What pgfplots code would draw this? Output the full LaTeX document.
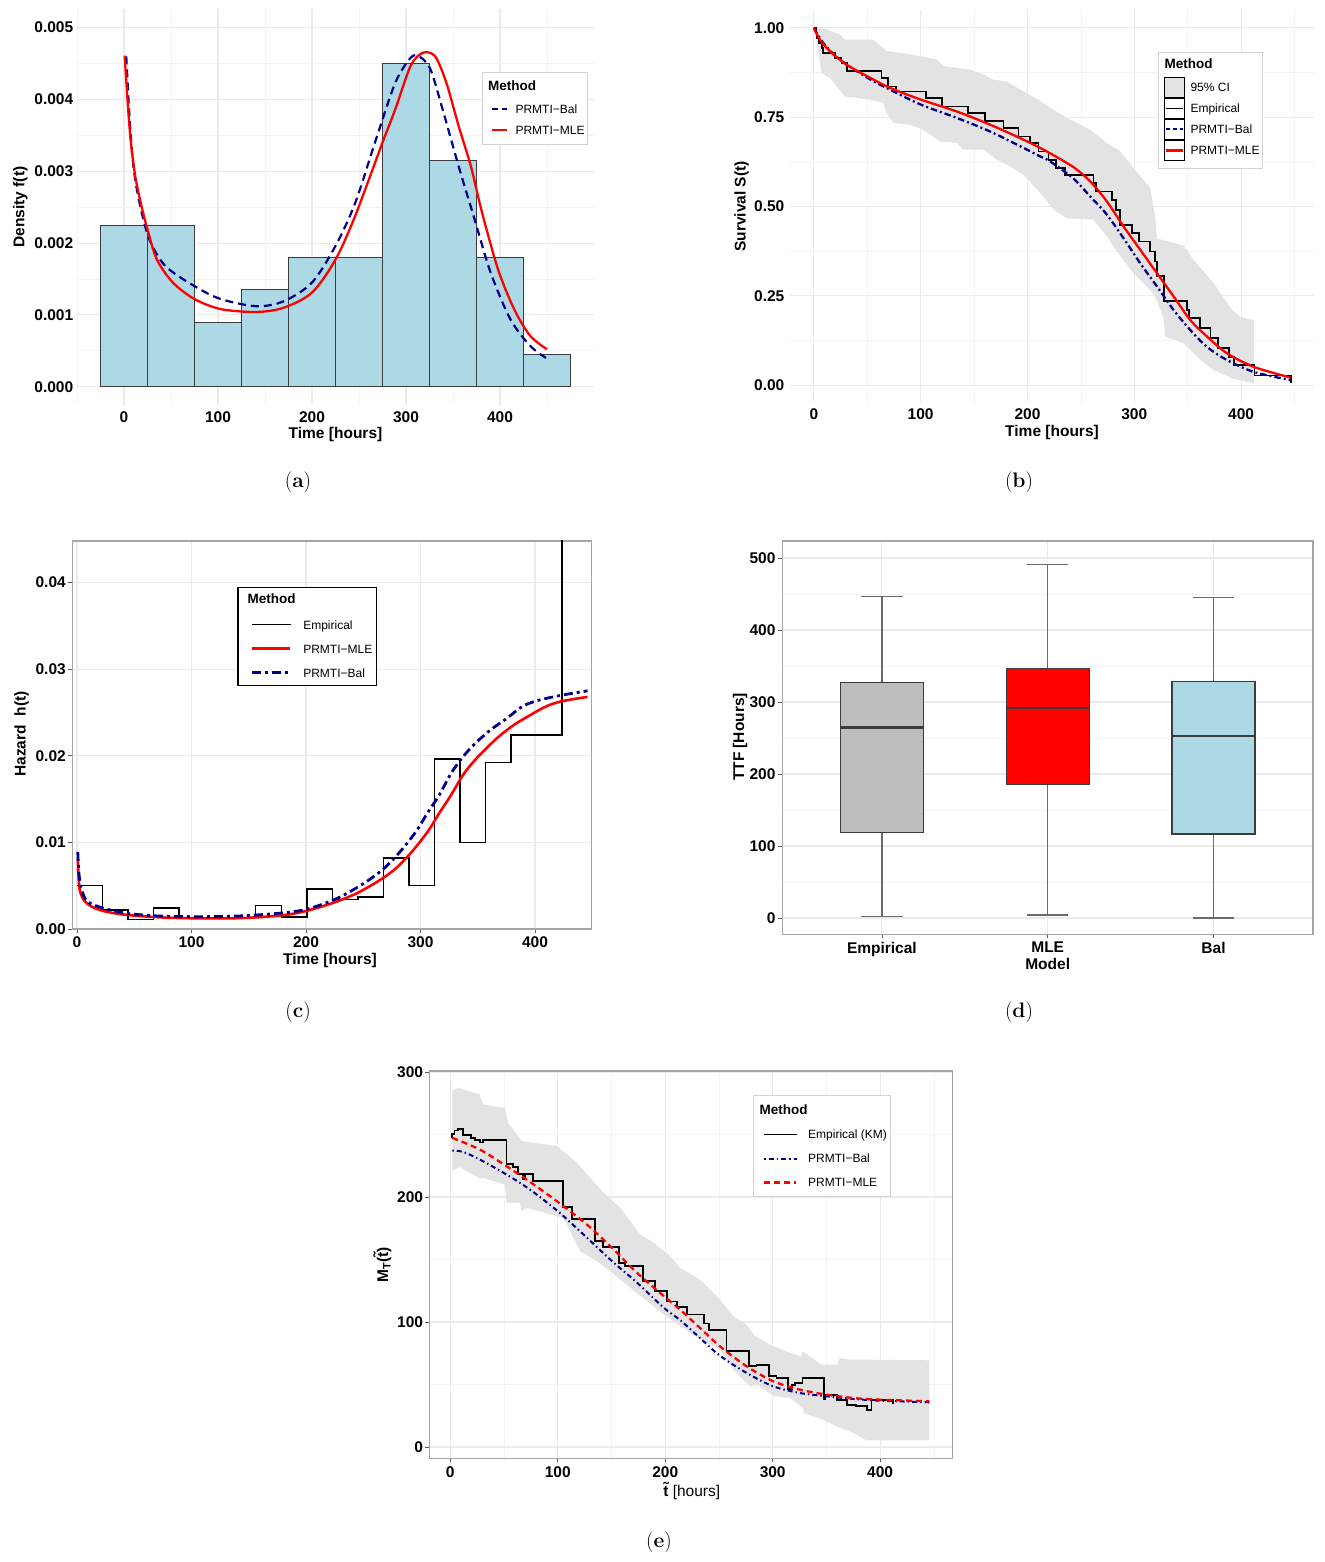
\documentclass[border=0pt]{standalone}
\usepackage{pgfplots}
\pgfplotsset{compat=1.18}
\usepackage{fontspec}
\newfontfamily\gf{Liberation Sans}
\definecolor{lb}{HTML}{ADD8E6}
\definecolor{db}{HTML}{00008B}
\definecolor{rd}{HTML}{FF0000}
\definecolor{rib}{HTML}{E3E3E3}
\definecolor{grd}{HTML}{EBEBEB}
\definecolor{grdm}{HTML}{F3F3F3}
\definecolor{frm}{HTML}{A6A6A6}
\definecolor{bxg}{HTML}{BEBEBE}
\definecolor{edg}{HTML}{3C3C3C}
\definecolor{lgb}{HTML}{D3D3D3}
\newcommand\tf{\gf\bfseries\fontsize{15.5pt}{15.5pt}\selectfont}
\newcommand\lf{\gf\fontsize{12pt}{12pt}\selectfont}
\newcommand\mth{\gf\bfseries\fontsize{13.5pt}{13.5pt}\selectfont}
\newcommand\tildet{\leavevmode\hbox{\ooalign{t\cr\hidewidth\raisebox{0.22em}{\char"02DC}\hidewidth\cr}}}
\newcommand\ttl[1]{\makebox[0pt][l]{\hspace{-#1}\mth Method}}
% legend keys
\newcommand\kaBal{\path[draw=none,fill=none] (0pt,0pt) -- (23pt,0pt); \draw[db, line width=2.2pt, dash pattern=on 6pt off 4pt] (6pt,0pt) -- (21.9pt,0pt);}
\newcommand\kaMLE{\path[draw=none,fill=none] (0pt,0pt) -- (23pt,0pt); \draw[rd, line width=2.2pt] (6pt,0pt) -- (21.9pt,0pt);}
\newcommand\kbCI{\path[draw=none,fill=none] (0pt,0pt) -- (23pt,0pt); \draw[black, line width=1pt, fill=rib] (2.5pt,-10pt) rectangle (22.5pt,10pt);}
\newcommand\kbEmp{\path[draw=none,fill=none] (0pt,0pt) -- (23pt,0pt); \draw[black, line width=1pt, fill=white] (2.5pt,-10pt) rectangle (22.5pt,10pt); \draw[black, line width=1.8pt] (4pt,0pt) -- (21pt,0pt);}
\newcommand\kbBal{\path[draw=none,fill=none] (0pt,0pt) -- (23pt,0pt); \draw[black, line width=1pt, fill=white] (2.5pt,-10pt) rectangle (22.5pt,10pt); \draw[db, line width=2pt, dash pattern=on 4pt off 3pt] (4pt,0pt) -- (21pt,0pt);}
\newcommand\kbMLE{\path[draw=none,fill=none] (0pt,0pt) -- (23pt,0pt); \draw[black, line width=1pt, fill=white] (2.5pt,-10pt) rectangle (22.5pt,10pt); \draw[rd, line width=2.2pt] (4pt,0pt) -- (21pt,0pt);}
\newcommand\kcEmp{\path[draw=none,fill=none] (0pt,0pt) -- (49.5pt,0pt); \draw[black, line width=1.3pt] (9.5pt,0pt) -- (48.8pt,0pt);}
\newcommand\kcMLE{\path[draw=none,fill=none] (0pt,0pt) -- (49.5pt,0pt); \draw[rd, line width=2.8pt] (9.5pt,0pt) -- (48.1pt,0pt);}
\newcommand\kcBal{\path[draw=none,fill=none] (0pt,0pt) -- (49.5pt,0pt); \draw[db, line width=2.8pt, dash pattern=on 9pt off 4pt on 3pt off 4pt] (9.5pt,0pt) -- (48.1pt,0pt);}
\newcommand\keEmp{\path[draw=none,fill=none] (0pt,0pt) -- (40pt,0pt); \draw[black, line width=1.8pt] (6.7pt,0pt) -- (39.1pt,0pt);}
\newcommand\keBal{\path[draw=none,fill=none] (0pt,0pt) -- (40pt,0pt); \draw[db, line width=2pt, dash pattern=on 1.5pt off 3pt on 5pt off 3pt] (6.7pt,0pt) -- (39pt,0pt);}
\newcommand\keMLE{\path[draw=none,fill=none] (0pt,0pt) -- (40pt,0pt); \draw[rd, line width=2.2pt, dash pattern=on 6pt off 4pt] (6.7pt,0pt) -- (38.9pt,0pt);}
\pgfplotsset{
  base/.style={scale only axis, anchor=south west, clip=true,
    scaled x ticks=false, scaled y ticks=false,
    tick label style={font=\tf, inner sep=0pt},
    major grid style={draw=grd, line width=1.1pt},
    minor grid style={draw=grdm, line width=0.6pt},
    legend cell align=left,
    legend style={fill=white, anchor=north west,
      nodes={inner sep=0pt, text height=8.6pt, text depth=0pt, font=\lf}}},
  gmin/.style={base, axis line style={draw=none}, tick style={draw=none},
    major tick length=0pt, minor tick length=0pt},
  gbw/.style={base, axis line style={draw=frm, line width=1.1pt}, tick align=outside,
    tick pos=left, major tick length=4pt, minor tick length=0pt,
    tick style={draw=black!65, line width=0.8pt}},
}
\begin{document}
\begin{tikzpicture}
\useasboundingbox (0,0) rectangle (1324pt,1562pt);
\fill[white] (0,0) rectangle (1324pt,1562pt);
%================ (a)
\begin{axis}[gmin, at={(77pt,1157pt)}, width=517pt, height=396pt,
  xmin=-50, xmax=500, ymin=-0.000255, ymax=0.00526,
  xtick={0,100,200,300,400}, xticklabels={0,100,200,300,400},
  minor xtick={-50,50,150,250,350,450},
  ytick={0,0.001,0.002,0.003,0.004,0.005},
  yticklabels={0.000,0.001,0.002,0.003,0.004,0.005},
  minor ytick={0.0005,0.0015,0.0025,0.0035,0.0045},
  grid=both,
  xticklabel style={anchor=north, yshift=-6.7pt},
  yticklabel style={anchor=east, xshift=-3.6pt},
  legend style={at={(0.7834,0.8409)}, draw=lgb, line width=1pt, inner xsep=3pt, inner ysep=9.7pt,
    row sep=12.4pt, column sep=7pt}]
\addplot[ybar interval, fill=lb, draw=edg, line width=0.9pt, forget plot] coordinates {
(-25,0.00225) (25,0.00225) (75,0.0009) (125,0.00135) (175,0.0018) (225,0.0018)
(275,0.0045) (325,0.00315) (375,0.0018) (425,0.00045) (475,0.00045)};
\addplot[db, line width=2.2pt, dash pattern=on 8pt off 5pt, smooth, forget plot] coordinates {
(2.4,0.0046) (5.8,0.00377) (10,0.00307) (16.5,0.00256) (27,0.00205) (44,0.00168) (75,0.0014)
(103,0.00122) (141,0.00112) (170,0.00119) (200,0.00145) (225,0.00196) (246,0.00256) (267,0.0034)
(288.5,0.00423) (305,0.00458) (314,0.0046) (326,0.00442) (339,0.00386) (356,0.00307) (373,0.00233)
(390,0.00159) (411,0.00094) (432,0.00057) (449,0.0004)};
\addplot[rd, line width=2.3pt, smooth, forget plot] coordinates {
(0.7,0.00461) (3.7,0.0040) (7,0.00344) (12,0.00293) (18.5,0.00252) (25,0.00219) (35,0.00177)
(52,0.00145) (75,0.00122) (103,0.00108) (141,0.00104) (170,0.0011) (200,0.00131) (225,0.00177)
(246,0.00238) (275,0.0034) (288.5,0.00386) (305,0.00447) (318,0.00465) (331,0.0046) (343,0.00423)
(356,0.00363) (369,0.00307) (381,0.00242) (398,0.00163) (415,0.00108) (432,0.00071) (450,0.00052)};
\addlegendimage{legend image code/.code={\path[draw=none,fill=none] (0pt,0pt) -- (0pt,-6pt);}}
\addlegendentry{\ttl{28pt}}
\addlegendimage{legend image code/.code={\kaBal}}
\addlegendentry{PRMTI−Bal}
\addlegendimage{legend image code/.code={\kaMLE}}
\addlegendentry{PRMTI−MLE}
\end{axis}
%================ (b)
\begin{axis}[gmin, at={(790pt,1159pt)}, width=524pt, height=393pt,
  xmin=-22.3, xmax=468.3, ymin=-0.05, ymax=1.05,
  xtick={0,100,200,300,400}, xticklabels={0,100,200,300,400},
  minor xtick={50,150,250,350,450},
  ytick={0,0.25,0.5,0.75,1}, yticklabels={0.00,0.25,0.50,0.75,1.00},
  minor ytick={0.125,0.375,0.625,0.875},
  grid=both,
  xticklabel style={anchor=north, yshift=-5pt},
  yticklabel style={anchor=east, xshift=-5.5pt},
  legend style={at={(0.7023,0.8931)}, draw=lgb, line width=1pt, inner xsep=3pt, inner ysep=7.7pt,
    row sep=0pt, column sep=6pt}]
\addplot[fill=rib, draw=none, forget plot] coordinates {
(0,1) (8.75,1) (24.4,0.981) (29.1,0.967) (55.6,0.967) (68.1,0.935) (80.6,0.93) (99.4,0.921)
(115,0.911) (121.3,0.893) (146.3,0.883) (158.8,0.869) (168.1,0.855) (180.6,0.85) (196.3,0.822)
(210.3,0.799) (224.4,0.771) (240,0.743) (258,0.716) (265,0.70) (278,0.67) (285.3,0.659) (300,0.605)
(315,0.551) (319.7,0.47) (321.3,0.41) (335,0.40) (346.3,0.39) (355.6,0.35) (374.4,0.285)
(391.6,0.21) (400,0.19) (411.9,0.182) (411.9,0.005)
(391.6,0.019) (374.4,0.042) (361.9,0.07) (346.3,0.117) (329.1,0.136) (327.5,0.187) (319.7,0.248)
(315,0.266) (299.4,0.313) (283.8,0.374) (274.4,0.416) (261.9,0.463) (236.9,0.467) (224.4,0.491)
(215,0.528) (196.3,0.589) (183.8,0.612) (171.3,0.631) (158.8,0.659) (140,0.659) (133.8,0.678)
(118.1,0.682) (102.5,0.715) (90,0.729) (74.4,0.734) (68.1,0.762) (65,0.79) (52.5,0.799)
(40,0.804) (29.1,0.808) (15,0.86) (7.2,0.874) (2.5,0.972) (0,1)} -- cycle;
\addplot[black, line width=1.8pt, const plot, forget plot] coordinates {
(0,1) (2.5,0.972) (5,0.958) (7.8,0.944) (8.75,0.93) (19.7,0.916) (25.9,0.902) (31.25,0.879)
(63.4,0.86) (69.7,0.836) (76.9,0.822) (105,0.804) (119.7,0.78) (144.7,0.762) (160.3,0.74)
(177.5,0.72) (191.6,0.696) (202.5,0.678) (210.3,0.654) (219.7,0.631) (227,0.608) (235.3,0.589)
(261.9,0.565) (264.4,0.542) (279.1,0.519) (283.1,0.491) (286.3,0.449) (297.8,0.425) (304.1,0.402)
(314.4,0.374) (319.7,0.346) (321.3,0.306) (327.5,0.236) (349.4,0.21) (350.9,0.187) (361.3,0.159)
(371.3,0.131) (378.1,0.103) (388.4,0.079) (393.1,0.056) (412.5,0.027) (446.9,0.005)};
\addplot[db, line width=2.3pt, dash pattern=on 6.5pt off 3pt on 2pt off 3pt, smooth, forget plot] coordinates {
(0,1) (8.75,0.958) (24.4,0.911) (50.3,0.86) (71.3,0.827) (100.3,0.785) (133.8,0.748) (165,0.71)
(196.3,0.664) (211.9,0.64) (221.3,0.626) (243.1,0.578) (258.8,0.528) (274.4,0.477) (290,0.411)
(305.6,0.341) (321.3,0.276) (336.9,0.21) (352.5,0.154) (368.1,0.107) (386.9,0.07) (411.9,0.037)
(446.3,0.014)};
\addplot[rd, line width=2.3pt, smooth, forget plot] coordinates {
(0,1) (5.6,0.967) (15,0.935) (30.6,0.897) (50.3,0.864) (71.3,0.832) (100.3,0.799) (133.8,0.766)
(165,0.729) (196.3,0.687) (218.1,0.654) (243.1,0.61) (258.8,0.57) (274.4,0.514) (290,0.444)
(305.6,0.379) (321.3,0.313) (336.9,0.248) (352.5,0.182) (368.1,0.136) (386.9,0.089) (411.9,0.051)
(446.3,0.021)};
\addlegendimage{legend image code/.code={\path[draw=none,fill=none] (0pt,0pt) -- (0pt,-12.5pt);}}
\addlegendentry{\ttl{26.5pt}}
\addlegendimage{legend image code/.code={\kbCI}}
\addlegendentry{95\% CI}
\addlegendimage{legend image code/.code={\kbEmp}}
\addlegendentry{Empirical}
\addlegendimage{legend image code/.code={\kbBal}}
\addlegendentry{PRMTI−Bal}
\addlegendimage{legend image code/.code={\kbMLE}}
\addlegendentry{PRMTI−MLE}
\end{axis}
%================ (c)
\begin{axis}[gbw, at={(72.3pt,633pt)}, width=519.4pt, height=388pt,
  xmin=-4.1, xmax=449.5, ymin=0, ymax=0.0448,
  xtick={0,100,200,300,400}, xticklabels={0,100,200,300,400},
  ytick={0,0.01,0.02,0.03,0.04}, yticklabels={0.00,0.01,0.02,0.03,0.04},
  grid=major,
  xticklabel style={anchor=north, yshift=-3pt},
  yticklabel style={anchor=east, xshift=-2.3pt},
  legend style={at={(0.318,0.8822)}, draw=black, line width=1.1pt, inner xsep=4pt, inner ysep=8pt,
    row sep=15.4pt, column sep=11.8pt}]
\addplot[black, line width=1.5pt, const plot, forget plot] coordinates {
(0,0.005) (22.3,0.0022) (44.6,0.0011) (66.9,0.0024) (89.2,0.0013) (111.5,0.0013) (133.8,0.0013)
(156.1,0.0027) (178.4,0.0014) (200.7,0.0046) (223,0.0034) (245.3,0.0037) (267.6,0.0082)
(289.9,0.005) (312.2,0.0196) (334.5,0.01) (356.8,0.0192) (379.1,0.0224) (401.4,0.0224)
(423.7,0.08) (446,0.08)};
\addplot[rd, line width=2.6pt, smooth, forget plot] coordinates {
(0.7,0.00816) (1.4,0.006) (2.4,0.0045) (5.9,0.00335) (12.8,0.00258) (23.1,0.00208) (36.9,0.00173)
(54.2,0.0015) (78.3,0.00131) (106,0.00123) (133.6,0.00123) (157.7,0.00135) (181.9,0.00162)
(200.2,0.00208) (223.3,0.003) (244,0.0041) (264.7,0.00566) (278.5,0.007) (292.3,0.0089)
(306.1,0.0112) (316.5,0.0134) (326.8,0.0155) (337.2,0.0178) (347.5,0.0195) (357.9,0.0209)
(368.2,0.0222) (382,0.0236) (395.9,0.0247) (409.7,0.0257) (423.5,0.0263) (445.9,0.0268)};
\addplot[db, line width=2.8pt, dash pattern=on 9pt off 4pt on 3pt off 4pt, smooth, forget plot] coordinates {
(0.7,0.0089) (1.7,0.0064) (4.1,0.0045) (9.3,0.00316) (23.1,0.0024) (43.8,0.0018) (71.4,0.0015)
(106,0.00142) (140.5,0.0015) (175,0.0018) (200.2,0.00227) (226.7,0.0035) (250.9,0.0053)
(268.2,0.007) (282,0.0089) (295.8,0.0112) (306.1,0.0134) (316.5,0.0155) (326.8,0.018)
(337.2,0.0199) (347.5,0.0214) (361.3,0.023) (375.2,0.0243) (389,0.0257) (402.8,0.0264)
(423.5,0.027) (445.9,0.0275)};
\addlegendimage{legend image code/.code={\path[draw=none,fill=none] (0pt,0pt) -- (0pt,-5.6pt);}}
\addlegendentry{\ttl{56.3pt}}
\addlegendimage{legend image code/.code={\kcEmp}}
\addlegendentry{Empirical}
\addlegendimage{legend image code/.code={\kcMLE}}
\addlegendentry{PRMTI−MLE}
\addlegendimage{legend image code/.code={\kcBal}}
\addlegendentry{PRMTI−Bal}
\end{axis}
%================ (d)
\begin{axis}[gbw, at={(782.4pt,627.7pt)}, width=530.6pt, height=393.3pt,
  xmin=0.4, xmax=3.6, ymin=-22.6, ymax=523.6,
  xtick={1,2,3}, xticklabels={Empirical,MLE,Bal},
  ytick={0,100,200,300,400,500}, yticklabels={0,100,200,300,400,500},
  minor ytick={50,150,250,350,450},
  xmajorgrids=true, ymajorgrids=true, yminorgrids=true,
  xticklabel style={anchor=north, yshift=-3.4pt},
  yticklabel style={anchor=east, xshift=-2.8pt}]
% Empirical
\addplot[black!58, line width=1.2pt] coordinates {(1,327.4) (1,446.5)};
\addplot[black!58, line width=1.2pt] coordinates {(1,119.1) (1,1.9)};
\addplot[black!58, line width=1.2pt] coordinates {(0.875,446.5) (1.125,446.5)};
\addplot[black!58, line width=1.2pt] coordinates {(0.875,1.9) (1.125,1.9)};
\addplot[fill=bxg, draw=edg, line width=1.2pt] coordinates {(0.75,119.1) (1.25,119.1) (1.25,327.4) (0.75,327.4)} -- cycle;
\addplot[edg, line width=2.6pt] coordinates {(0.75,264.2) (1.25,264.2)};
% MLE
\addplot[black!58, line width=1.2pt] coordinates {(2,346.5) (2,491.2)};
\addplot[black!58, line width=1.2pt] coordinates {(2,185.6) (2,4.2)};
\addplot[black!58, line width=1.2pt] coordinates {(1.875,491.2) (2.125,491.2)};
\addplot[black!58, line width=1.2pt] coordinates {(1.875,4.2) (2.125,4.2)};
\addplot[fill=rd, draw=edg, line width=1.2pt] coordinates {(1.75,185.6) (2.25,185.6) (2.25,346.5) (1.75,346.5)} -- cycle;
\addplot[edg, line width=2.6pt] coordinates {(1.75,291.6) (2.25,291.6)};
% Bal
\addplot[black!58, line width=1.2pt] coordinates {(3,328.8) (3,445.1)};
\addplot[black!58, line width=1.2pt] coordinates {(3,116.7) (3,0)};
\addplot[black!58, line width=1.2pt] coordinates {(2.875,445.1) (3.125,445.1)};
\addplot[black!58, line width=1.2pt] coordinates {(2.875,0) (3.125,0)};
\addplot[fill=lb, draw=edg, line width=1.2pt] coordinates {(2.75,116.7) (3.25,116.7) (3.25,328.8) (2.75,328.8)} -- cycle;
\addplot[edg, line width=2.6pt] coordinates {(2.75,252.6) (3.25,252.6)};
\end{axis}
%================ (e)
\begin{axis}[gbw, at={(429.3pt,103.7pt)}, width=523.4pt, height=387.3pt,
  xmin=-19.5, xmax=467.5, ymin=-9, ymax=300.8,
  xtick={0,100,200,300,400}, xticklabels={0,100,200,300,400},
  minor xtick={50,150,250,350,450},
  ytick={0,100,200,300}, yticklabels={0,100,200,300},
  minor ytick={50,150,250},
  grid=both,
  xticklabel style={anchor=north, yshift=-3.7pt},
  yticklabel style={anchor=east, xshift=-2pt},
  legend style={at={(0.6185,0.938)}, draw=lgb, line width=1pt, inner xsep=4pt, inner ysep=10pt,
    row sep=15.4pt, column sep=10.7pt}]
\addplot[fill=rib, draw=none, forget plot] coordinates {
(1.9,284.7) (7.2,287.3) (27.4,282) (30.5,274) (50.8,271.3) (53.9,259.3) (66.4,244.7) (99.1,240.7)
(105.3,236.7) (117.8,227.3) (142.7,203.3) (158.3,191.3) (176.9,170) (190,163) (205.3,152.3)
(213.7,143.3) (232.3,134) (250.9,118) (263.3,104.6) (275.7,98) (283.5,88.6) (300.5,80.6) (316,75.3)
(326,72.5) (328,76.6) (345,66) (360,66) (362,71.2) (370,70) (445.7,69.4) (445.7,5.3)
(387.4,5.3) (375,11.2) (359.5,16.6) (347,21.9) (329,27.2) (328.4,31.2) (316,39.2) (302,40.6)
(285,50) (278.8,48.6) (263.3,62) (250.9,77.9) (230,87.3) (198.8,106) (167.6,127.3) (148.9,140.7)
(136.4,148.7) (120.9,156.7) (105.3,183.3) (71,191.3) (66.4,188.7) (64.8,195.3) (52.3,195.3)
(50.8,210) (30.5,215.3) (27.4,214.8) (8.7,224) (1.9,220.7)} -- cycle;
\addplot[black, line width=1.8pt, const plot, forget plot] coordinates {
(1.9,247.3) (1.95,250.5) (4,253.2) (7.2,254.5) (11.8,249.5) (19.6,247.3) (22.7,245.7) (27.4,243.6)
(30.5,245.5) (52.3,226.5) (58.6,223.9) (63.2,218.7) (67.7,214.7) (69.5,218.2) (77.3,212.7)
(104.7,191.9) (113,182.5) (134.9,164.7) (142.1,160) (157.1,147) (162.3,145) (179.1,133)
(190.7,125) (201.7,116.5) (210.7,112) (220.5,106) (236,98.8) (241,93.4) (257.1,76.6) (278.2,64.6)
(285,65.9) (296.8,57.1) (303.6,55.3) (314.5,46.4) (317.6,49.9) (320.7,51.3) (327.8,55.3)
(347.7,38.4) (349.2,41.8) (359.5,37.4) (368.8,33.9) (377.4,32.6) (387.4,29.9) (392,37.4)
(412.2,37.4) (412.2,34.7)};
\addplot[db, line width=2pt, dash pattern=on 1.5pt off 3pt on 5pt off 3pt, smooth, forget plot] coordinates {
(1.9,237.2) (11.8,236.1) (27.4,230) (52.3,218) (74.1,206) (100,188.7) (124,170) (150.5,148.7)
(173.8,131.5) (198.8,111.3) (213.7,101.7) (232.3,87.3) (250.9,73.1) (275.7,59.3) (300.5,48.6)
(325.3,43.2) (350.2,40.6) (375,38.5) (399.8,37.1) (445.7,35.8)};
\addplot[rd, line width=2.3pt, dash pattern=on 6pt off 4pt, smooth, forget plot] coordinates {
(1.9,247.3) (27.4,238) (52.3,224.7) (74.1,212.1) (100,196.1) (127.1,178) (150.5,159.3)
(173.8,139.3) (198.8,120.7) (213.7,110) (232.3,95.3) (250.9,80.6) (275.7,64.6) (300.5,52.6)
(325.3,45.9) (350.2,41.9) (375,39.2) (399.8,37.9) (445.7,36.6)};
\addlegendimage{legend image code/.code={\path[draw=none,fill=none] (0pt,0pt) -- (0pt,-5pt);}}
\addlegendentry{\ttl{49pt}}
\addlegendimage{legend image code/.code={\keEmp}}
\addlegendentry{Empirical (KM)}
\addlegendimage{legend image code/.code={\keBal}}
\addlegendentry{PRMTI−Bal}
\addlegendimage{legend image code/.code={\keMLE}}
\addlegendentry{PRMTI−MLE}
\end{axis}
%================ titles
\node[font=\tf, anchor=base] at (335.5pt,1123pt) {Time [hours]};
\node[font=\tf, anchor=base, rotate=90] at (24.5pt,1355pt) {Density f(t)};
\node[font=\tf, anchor=base] at (1052pt,1125pt) {Time [hours]};
\node[font=\tf, anchor=base, rotate=90] at (745.6pt,1355.5pt) {Survival S(t)};
\node[font=\tf, anchor=base] at (330pt,597pt) {Time [hours]};
\node[font=\tf, anchor=base, rotate=90] at (25.7pt,828pt) {Hazard\ \ h(t)};
\node[font=\tf, anchor=base] at (1047.7pt,592pt) {Model};
\node[font=\tf, anchor=base, rotate=90] at (744pt,825pt) {TTF [Hours]};
\node[font=\tf, anchor=base] at (691.7pt,65.3pt) {\tildet\ \mdseries[hours]};
\node[font=\tf, anchor=base, rotate=90] at (388pt,297pt) {M\textsubscript{T}(\tildet)};
%================ panel labels
\node[anchor=base, font=\fontsize{21pt}{21pt}\selectfont] at (298pt,1074pt) {(\textbf{a})};
\node[anchor=base, font=\fontsize{21pt}{21pt}\selectfont] at (1019pt,1074pt) {(\textbf{b})};
\node[anchor=base, font=\fontsize{21pt}{21pt}\selectfont] at (298pt,544pt) {(\textbf{c})};
\node[anchor=base, font=\fontsize{21pt}{21pt}\selectfont] at (1019pt,544pt) {(\textbf{d})};
\node[anchor=base, font=\fontsize{21pt}{21pt}\selectfont] at (659pt,14pt) {(\textbf{e})};
\end{tikzpicture}
\end{document}
